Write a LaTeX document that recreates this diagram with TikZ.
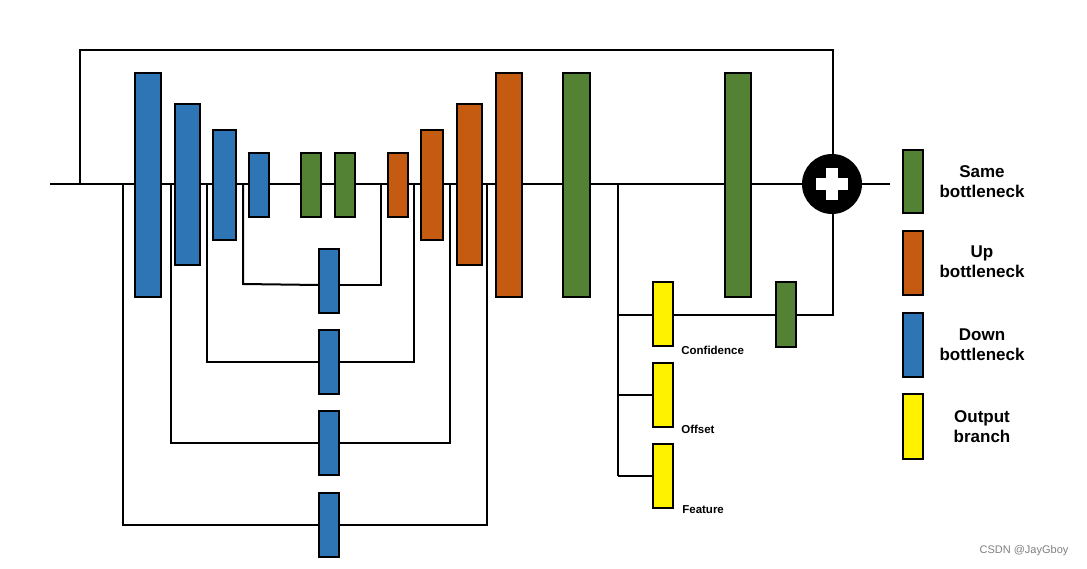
\documentclass[tikz,border=0pt]{standalone}
\usepackage{fontspec}
\setmainfont{Liberation Sans}
\begin{document}
\begin{tikzpicture}[x=1pt,y=-1pt,line width=2pt,
  bar/.style={draw=black,line width=2.2pt},
  B/.style={bar,fill={rgb,255:red,46;green,117;blue,182}},
  O/.style={bar,fill={rgb,255:red,197;green,90;blue,17}},
  G/.style={bar,fill={rgb,255:red,84;green,130;blue,53}},
  Y/.style={bar,fill=yellow},
  lab/.style={font=\bfseries\fontsize{11.5}{13}\selectfont,anchor=west},
  leg/.style={font=\bfseries\fontsize{17}{20}\selectfont,align=center}]
\useasboundingbox (0,0) rectangle (1087,568);
\fill[white] (0,0) rectangle (1087,568);
% lines
\draw (50,184) -- (890,184);
\draw (80,184) -- (80,50) -- (833,50) -- (833,156);
\draw (796,315) -- (833,315) -- (833,212);
\draw (618,184) -- (618,476);
\draw (618,315) -- (653,315); \draw (618,395) -- (653,395); \draw (618,476) -- (653,476);
\draw (673,315) -- (776,315);
\draw (243,184) -- (243,284) -- (319,285); \draw (339,285) -- (381,285) -- (381,184);
\draw (207,184) -- (207,362) -- (319,362); \draw (339,362) -- (414,362) -- (414,184);
\draw (171,184) -- (171,443) -- (319,443); \draw (339,443) -- (450,443) -- (450,184);
\draw (123,184) -- (123,525) -- (319,525); \draw (339,525) -- (487,525) -- (487,184);
% bars
\path[B] (135,73) rectangle (161,297);
\path[B] (175,104) rectangle (200,265);
\path[B] (213,130) rectangle (236,240);
\path[B] (249,153) rectangle (269,217);
\path[G] (301,153) rectangle (321,217);
\path[G] (335,153) rectangle (355,217);
\path[O] (388,153) rectangle (408,217);
\path[O] (421,130) rectangle (443,240);
\path[O] (457,104) rectangle (482,265);
\path[O] (496,73) rectangle (522,297);
\path[G] (563,73) rectangle (590,297);
\path[G] (725,73) rectangle (751,297);
\path[G] (776,282) rectangle (796,347);
\path[Y] (653,282) rectangle (673,346);
\path[Y] (653,363) rectangle (673,427);
\path[Y] (653,444) rectangle (673,508);
\foreach \y in {249,330,411,493} \path[B] (319,\y) rectangle (339,\y+64);
% plus
\fill[black] (832,184) circle (30);
\fill[white] (816,178) rectangle (848,190);
\fill[white] (826,168) rectangle (838,200);
% labels
\node[lab] (c) at (677,350) {Confidence};
\node[lab] (o) at (677,429) {Offset};
\node[lab] (f) at (678,510) {Feature};
% legend
\path[G] (903,150) rectangle (923,213);
\path[O] (903,231) rectangle (923,295);
\path[B] (903,313) rectangle (923,377);
\path[Y] (903,394) rectangle (923,459);
\node[leg] (l1) at (982,182) {Same\\bottleneck};
\node[leg] (l2) at (982,262) {Up\\bottleneck};
\node[leg] (l3) at (982,345) {Down\\bottleneck};
\node[leg] (l4) at (982,427) {Output\\branch};
\node[font=\fontsize{11}{12}\selectfont,text=gray] (w) at (1024,551) {CSDN @JayGboy};
\end{tikzpicture}
\end{document}
